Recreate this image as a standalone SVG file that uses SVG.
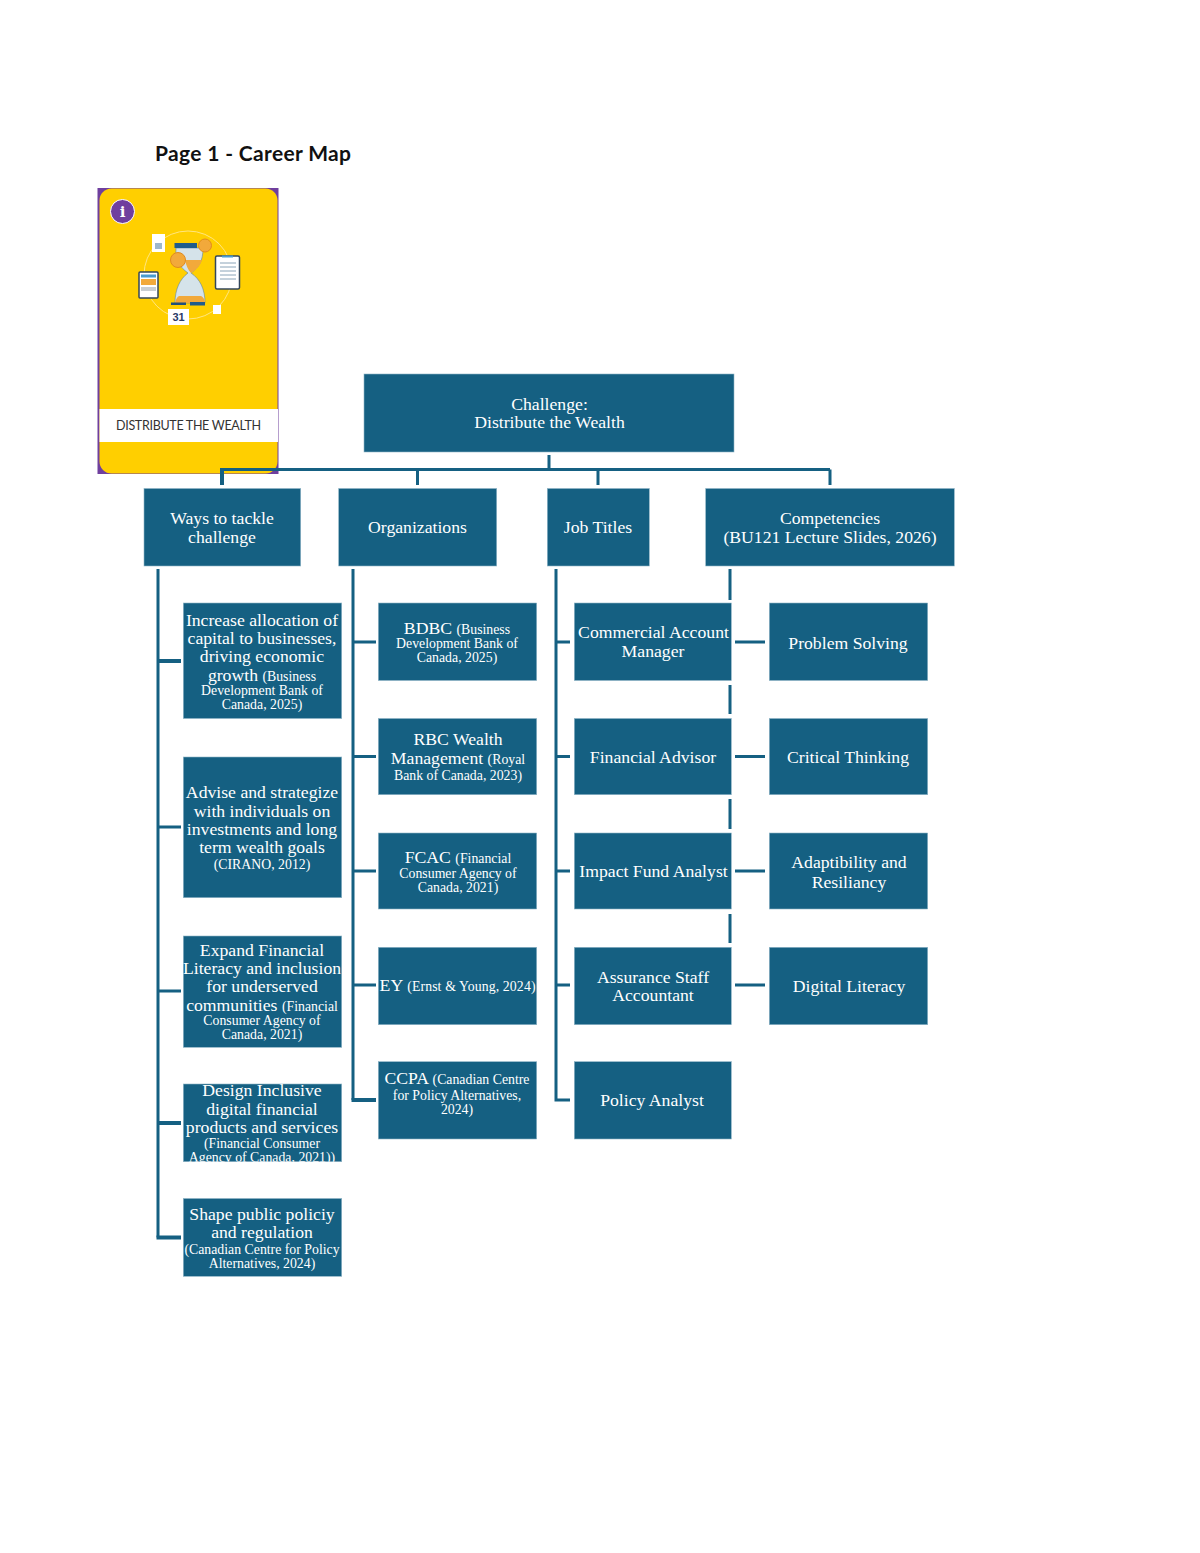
<svg xmlns="http://www.w3.org/2000/svg" width="1200" height="1553" viewBox="0 0 1200 1553">
<style>
.box{fill:#156082;stroke:#8fb5c6;stroke-width:.6}
.t{font-family:"Liberation Serif","Times New Roman",serif;font-size:17.7px;fill:#fff;text-anchor:middle;transform:translateY(.5px)}
.s{font-size:13.8px}
.c{fill:none;stroke:#156082;stroke-width:3}
.k{stroke-width:4}
</style>
<defs>
<clipPath id="designClip"><rect x="183.3" y="1083.5" width="158.4" height="77.7"/></clipPath>
</defs>
<rect width="1200" height="1553" fill="#fff"/>
<text x="155" y="160.500" font-family="Lato,'Noto Sans',sans-serif" font-weight="700" font-size="21px" fill="#111" textLength="196">Page 1 - Career Map</text>

<g id="card">
<rect x="97.500" y="188" width="181" height="286" fill="#6f3f9e"/>
<rect x="99.500" y="188.500" width="178" height="285" rx="12" fill="#ffcf00"/>
<rect x="99.500" y="409" width="178.500" height="33" fill="#fff"/>
<text x="188.500" y="430" font-family="Lato,'Noto Sans',sans-serif" font-size="12.500px" fill="#333" text-anchor="middle" textLength="145">DISTRIBUTE THE WEALTH</text>
<circle cx="122.500" cy="211.500" r="12" fill="#6f3f9e" stroke="#fff" stroke-width="1"/>
<text x="122.500" y="217" font-family="'DejaVu Serif',serif" font-weight="700" font-size="15px" fill="#fff" text-anchor="middle">i</text>
<circle cx="188" cy="275" r="44" fill="none" stroke="#ffe680" stroke-width="1"/>
<!-- hourglass with sand and coins -->
<path d="M176 248h27c0 13-4 19-12 25 9 6 14 16 14 30h-30c0-14 5-24 13-30-8-6-13-12-12-25z" fill="#d5e3ea" stroke="#5f86a3" stroke-width=".6"/>
<path d="M185 260h17c-2 6-5 9-11 13-3-3-5-8-6-13zM175 303c1-4 2-6 4-7h22c2 1 4 3 4 7z" fill="#f2a93b"/>
<rect x="174.500" y="243" width="22.500" height="5" fill="#1f5c8c"/>
<rect x="171" y="302.500" width="15" height="2.500" fill="#1f4f7a"/>
<rect x="190" y="302" width="15" height="3.500" fill="#1f5c8c"/>
<circle cx="205" cy="245.500" r="6.500" fill="#f2a93b" stroke="#e08a20"/>
<circle cx="178" cy="260" r="7.500" fill="#f2a93b" stroke="#e08a20"/>
<!-- clipboard -->
<rect x="215.500" y="256" width="24" height="33" rx="1.500" fill="#fff" stroke="#33475b" stroke-width="1.500"/>
<rect x="222" y="255.500" width="11" height="2" fill="#4a9bd0"/>
<path d="M220 263h16M220 267h16M220 271h16M220 275h16M220 279h16" stroke="#8aa4b8"/>
<!-- tablet -->
<rect x="139" y="272" width="19" height="26" rx="1" fill="#fff" stroke="#33475b" stroke-width="1.500"/>
<rect x="141" y="274.500" width="15" height="3" fill="#4a9bd0"/>
<rect x="141" y="279" width="15" height="6" fill="#f2a93b"/>
<rect x="141" y="287" width="15" height="4" fill="#c9ced3"/>
<!-- loose pages -->
<rect x="152" y="234" width="13" height="18" fill="#fff"/>
<rect x="155" y="243" width="7" height="6" fill="#9fb8cc"/>
<rect x="213" y="305" width="8" height="9" fill="#fff"/>
<rect x="168" y="309" width="21" height="16" fill="#fff"/>
<text x="178.500" y="321" font-family="'Liberation Sans',sans-serif" font-weight="700" font-size="11px" fill="#2b3a67" text-anchor="middle">31</text>
</g>

<g id="connectors">
<path class="c" d="M549 455V469.500M222 469.500H830M417.500 469.500V485M598 469.500V485M830 469.500V485"/>
<path class="c k" d="M222 468V485"/>
<path class="c" d="M158 569V1237.500M158 827H181M158 991H181"/>
<path class="c k" d="M158 661H181M158 1123H181M156.500 1237.500H181"/>
<path class="c" d="M353 569V1100M353 642H376M353 756.500H376M353 871H376M353 985H376"/>
<path class="c k" d="M351.500 1100H376"/>
<path class="c" d="M556 569V1100H570M556 642H570M556 756.500H570M556 871H570M556 985H570"/>
<path class="c" d="M730 569V600M730 685V714M730 799V829M730 914V943M735 642H765M735 756.500H765M735 871H765M735 985H765"/>
</g>

<g id="challenge"><rect class="box" x="364" y="374" width="370" height="78"/><text class="t"><tspan x="549.500" y="409">Challenge:</tspan><tspan x="549.500" y="427">Distribute the Wealth</tspan></text></g>
<g id="ways"><rect class="box" x="144" y="488.500" width="156.700" height="77.500"/><text class="t"><tspan x="222" y="523">Ways to tackle</tspan><tspan x="222" y="542">challenge</tspan></text></g>
<g id="organizations"><rect class="box" x="338.700" y="488.500" width="158" height="77.500"/><text class="t" x="417.500" y="532">Organizations</text></g>
<g id="job-titles"><rect class="box" x="547.300" y="488.500" width="102" height="77.500"/><text class="t" x="598" y="532">Job Titles</text></g>
<g id="competencies"><rect class="box" x="705.700" y="488.500" width="248.600" height="77.500"/><text class="t"><tspan x="830" y="523">Competencies</tspan><tspan x="830" y="542">(BU121 Lecture Slides, 2026)</tspan></text></g>

<g id="way-1"><rect class="box" x="183.300" y="603" width="158.400" height="115.500"/><text class="t"><tspan x="262" y="625">Increase allocation of</tspan><tspan x="262" y="643">capital to businesses,</tspan><tspan x="262" y="661">driving economic</tspan><tspan x="262" y="680">growth <tspan class="s">(Business</tspan></tspan><tspan class="s" x="262" y="694">Development Bank of</tspan><tspan class="s" x="262" y="708">Canada, 2025)</tspan></text></g>
<g id="way-2"><rect class="box" x="183.300" y="757" width="158.400" height="140.700"/><text class="t"><tspan x="262" y="797">Advise and strategize</tspan><tspan x="262" y="816">with individuals on</tspan><tspan x="262" y="834">investments and long</tspan><tspan x="262" y="852">term wealth goals</tspan><tspan class="s" x="262" y="868">(CIRANO, 2012)</tspan></text></g>
<g id="way-3"><rect class="box" x="183.300" y="936" width="158.400" height="111.300"/><text class="t"><tspan x="262" y="955">Expand Financial</tspan><tspan x="262" y="973">Literacy and inclusion</tspan><tspan x="262" y="991">for underserved</tspan><tspan x="262" y="1010">communities <tspan class="s">(Financial</tspan></tspan><tspan class="s" x="262" y="1024">Consumer Agency of</tspan><tspan class="s" x="262" y="1038">Canada, 2021)</tspan></text></g>
<g id="way-4"><rect class="box" x="183.300" y="1084" width="158.400" height="77.700"/><text class="t" clip-path="url(#designClip)"><tspan x="262" y="1095">Design Inclusive</tspan><tspan x="262" y="1114">digital financial</tspan><tspan x="262" y="1132">products and services</tspan><tspan class="s" x="262" y="1147">(Financial Consumer</tspan><tspan class="s" x="262" y="1161">Agency of Canada, 2021))</tspan></text></g>
<g id="way-5"><rect class="box" x="183.300" y="1198.500" width="158.400" height="77.800"/><text class="t"><tspan x="262" y="1219">Shape public policiy</tspan><tspan x="262" y="1237">and regulation</tspan><tspan class="s" x="262" y="1253">(Canadian Centre for Policy</tspan><tspan class="s" x="262" y="1267">Alternatives, 2024)</tspan></text></g>

<g id="org-1"><rect class="box" x="378.300" y="603" width="158.400" height="77.500"/><text class="t"><tspan x="457" y="633">BDBC <tspan class="s">(Business</tspan></tspan><tspan class="s" x="457" y="647">Development Bank of</tspan><tspan class="s" x="457" y="661">Canada, 2025)</tspan></text></g>
<g id="org-2"><rect class="box" x="378.300" y="718.500" width="158.400" height="76.200"/><text class="t"><tspan x="458" y="744">RBC Wealth</tspan><tspan x="458" y="763">Management <tspan class="s">(Royal</tspan></tspan><tspan class="s" x="458" y="779">Bank of Canada, 2023)</tspan></text></g>
<g id="org-3"><rect class="box" x="378.300" y="833" width="158.400" height="76"/><text class="t"><tspan x="458" y="862">FCAC <tspan class="s">(Financial</tspan></tspan><tspan class="s" x="458" y="877">Consumer Agency of</tspan><tspan class="s" x="458" y="891">Canada, 2021)</tspan></text></g>
<g id="org-4"><rect class="box" x="378.300" y="947.300" width="158.400" height="77.400"/><text class="t" x="457.500" y="990" textLength="156">EY <tspan class="s">(Ernst &amp; Young, 2024)</tspan></text></g>
<g id="org-5"><rect class="box" x="378.300" y="1061.700" width="158.400" height="77.300"/><text class="t"><tspan x="457" y="1083">CCPA <tspan class="s">(Canadian Centre</tspan></tspan><tspan class="s" x="457" y="1099">for Policy Alternatives,</tspan><tspan class="s" x="457" y="1113">2024)</tspan></text></g>

<g id="job-1"><rect class="box" x="574.300" y="603" width="157" height="77.500"/><text class="t"><tspan x="653.500" y="637">Commercial Account</tspan><tspan x="653" y="656">Manager</tspan></text></g>
<g id="job-2"><rect class="box" x="574.300" y="718.500" width="157" height="76.200"/><text class="t" x="653" y="762">Financial Advisor</text></g>
<g id="job-3"><rect class="box" x="574.300" y="833" width="157" height="76"/><text class="t" x="653.500" y="876">Impact Fund Analyst</text></g>
<g id="job-4"><rect class="box" x="574.300" y="947.300" width="157" height="77.400"/><text class="t"><tspan x="653" y="982">Assurance Staff</tspan><tspan x="653" y="1000">Accountant</tspan></text></g>
<g id="job-5"><rect class="box" x="574.300" y="1061.700" width="157" height="77.300"/><text class="t" x="652" y="1105">Policy Analyst</text></g>

<g id="comp-1"><rect class="box" x="769.300" y="603" width="158.400" height="77.500"/><text class="t" x="848" y="648">Problem Solving</text></g>
<g id="comp-2"><rect class="box" x="769.300" y="718.500" width="158.400" height="76.200"/><text class="t" x="848" y="762">Critical Thinking</text></g>
<g id="comp-3"><rect class="box" x="769.300" y="833" width="158.400" height="76"/><text class="t"><tspan x="849" y="867">Adaptibility and</tspan><tspan x="849" y="887">Resiliancy</tspan></text></g>
<g id="comp-4"><rect class="box" x="769.300" y="947.300" width="158.400" height="77.400"/><text class="t" x="849" y="991">Digital Literacy</text></g>
</svg>
